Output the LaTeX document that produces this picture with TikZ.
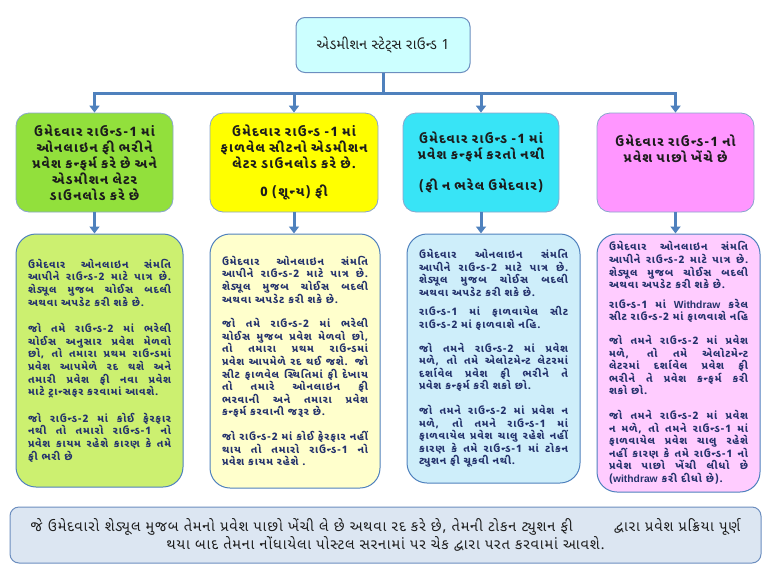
\documentclass[tikz,border=0pt]{standalone}
\usepackage{fontspec}
\setmainfont{Noto Sans Gujarati UI}[Script=Gujarati]
\newfontfamily\latfont{Liberation Sans}
\usetikzlibrary{arrows.meta}
\definecolor{linkblue}{RGB}{79,129,189}
\definecolor{boxline}{RGB}{108,142,191}
\definecolor{titlefill}{RGB}{204,255,255}
\definecolor{greenhead}{RGB}{146,224,60}
\definecolor{yellowhead}{RGB}{255,255,0}
\definecolor{cyanhead}{RGB}{56,228,246}
\definecolor{pinkhead}{RGB}{255,150,255}
\definecolor{greennote}{RGB}{204,240,112}
\definecolor{yellownote}{RGB}{255,255,204}
\definecolor{cyannote}{RGB}{206,238,250}
\definecolor{pinknote}{RGB}{255,204,255}
\definecolor{bannerfill}{RGB}{220,230,242}
\definecolor{notetext}{RGB}{36,50,108}
\definecolor{headtext}{RGB}{28,28,28}
\newcommand\blankline[1]{\par\vspace{#1}}
\begin{document}
\begin{tikzpicture}[x=1pt,y=-1pt,
  link/.style={draw=linkblue,line width=3pt},
  drop/.style={link,-{Triangle[width=10pt,length=7pt]}},
  titlebox/.style={draw=boxline,line width=1pt,fill=titlefill,rounded corners=9pt,
    minimum width=174pt,minimum height=55pt,font=\fontsize{14}{17}\selectfont\addfontfeature{LetterSpace=3},text=headtext},
  headbox/.style={draw=boxline!80,line width=0.8pt,rounded corners=13pt,minimum height=99pt,
    inner xsep=4pt,align=center,font=\bfseries\fontsize{13}{16}\selectfont\addfontfeature{LetterSpace=10},text=headtext},
  notebox/.style={draw=linkblue,line width=1pt,rounded corners=20pt,inner xsep=12pt,
    align=justify,font=\bfseries\fontsize{10.3}{12.6}\selectfont\addfontfeature{LetterSpace=8},text=notetext},
  banner/.style={draw=boxline,line width=1pt,fill=bannerfill,rounded corners=9pt,
    minimum width=751pt,minimum height=56pt,align=center,font=\fontsize{14.5}{18}\selectfont\addfontfeature{LetterSpace=6},text=headtext}]
\useasboundingbox (0,0) rectangle (768,576);

\node[titlebox] (title) at (383,45) {એડમીશન સ્ટેટ્સ રાઉન્ડ 1};

\node[headbox,fill=greenhead,text width=149pt] (h1) at (94.5,162.5)
  {ઉમેદવાર રાઉન્ડ-1 માં\\ ઓનલાઇન ફી ભરીને\\ પ્રવેશ કન્ફર્મ કરે છે અને\\ એડમીશન લેટર\\ ડાઉનલોડ કરે છે};
\node[headbox,fill=yellowhead,text width=160pt] (h2) at (294,162.5)
  {ઉમેદવાર રાઉન્ડ -1 માં\\ ફાળવેલ સીટનો એડમીશન\\ લેટર ડાઉનલોડ કરે છે.\\[12pt] 0 (શૂન્ય) ફી};
\node[headbox,fill=cyanhead,text width=148pt] (h3) at (481,162.5)
  {ઉમેદવાર રાઉન્ડ -1 માં\\ પ્રવેશ કન્ફર્મ કરતો નથી\\[15pt] (ફી ન ભરેલ ઉમેદવાર)};
\node[headbox,fill=pinkhead,text width=149pt] (h4) at (675.5,162.5)
  {ઉમેદવાર રાઉન્ડ-1 નો\\ પ્રવેશ પાછો ખેંચે છે\\[12pt]\mbox{}};

\node[notebox,fill=greennote,text width=143pt,minimum height=253pt] (n1) at (99.5,360.5)
  {ઉમેદવાર ઓનલાઇન સંમતિ\linebreak આપીને રાઉન્ડ-2 માટે પાત્ર છે.\linebreak
   શેડ્યૂલ મુજબ ચોઈસ બદલી\linebreak અથવા અપડેટ કરી શકે છે.\blankline{14pt}
   જો તમે રાઉન્ડ-2 માં ભરેલી\linebreak ચોઈસ અનુસાર પ્રવેશ મેળવો\linebreak
   છો, તો તમારા પ્રથમ રાઉન્ડમાં\linebreak પ્રવેશ આપમેળે રદ થશે અને\linebreak
   તમારી પ્રવેશ ફી નવા પ્રવેશ\linebreak માટે ટ્રાન્સફર કરવામાં આવશે.\blankline{14pt}
   જો રાઉન્ડ-2 માં કોઈ ફેરફાર\linebreak નથી તો તમારો રાઉન્ડ-1 નો\linebreak
   પ્રવેશ કાયમ રહેશે કારણ કે તમે\linebreak ફી ભરી છે};
\node[notebox,fill=yellownote,text width=146pt,minimum height=254pt] (n2) at (295,361)
  {ઉમેદવાર ઓનલાઇન સંમતિ\linebreak આપીને રાઉન્ડ-2 માટે પાત્ર છે.\linebreak
   શેડ્યૂલ મુજબ ચોઈસ બદલી\linebreak અથવા અપડેટ કરી શકે છે.\blankline{12pt}
   જો તમે રાઉન્ડ-2 માં ભરેલી\linebreak ચોઈસ મુજબ પ્રવેશ મેળવો છો,\linebreak
   તો તમારા પ્રથમ રાઉન્ડમાં\linebreak પ્રવેશ આપમેળે રદ થઈ જશે. જો\linebreak
   સીટ ફાળવેલ સ્થિતિમાં ફી દેખાય\linebreak તો તમારે ઓનલાઇન ફી\linebreak
   ભરવાની અને તમારા પ્રવેશ\linebreak કન્ફર્મ કરવાની જરૂર છે.\blankline{12pt}
   જો રાઉન્ડ-2 માં કોઈ ફેરફાર નહીં\linebreak થાય તો તમારો રાઉન્ડ-1 નો\linebreak
   પ્રવેશ કાયમ રહેશે .};
\node[notebox,fill=cyannote,text width=149pt,minimum height=249pt] (n3) at (493.5,358.5)
  {ઉમેદવાર ઓનલાઇન સંમતિ\linebreak આપીને રાઉન્ડ-2 માટે પાત્ર છે.\linebreak
   શેડ્યૂલ મુજબ ચોઈસ બદલી\linebreak અથવા અપડેટ કરી શકે છે.\blankline{7pt}
   રાઉન્ડ-1 માં ફાળવાયેલ સીટ\linebreak રાઉન્ડ-2 માં ફાળવાશે નહિ.\blankline{11pt}
   જો તમને રાઉન્ડ-2 માં પ્રવેશ\linebreak મળે, તો તમે એલોટમેન્ટ લેટરમાં\linebreak
   દર્શાવેલ પ્રવેશ ફી ભરીને તે\linebreak પ્રવેશ કન્ફર્મ કરી શકો છો.\blankline{12pt}
   જો તમને રાઉન્ડ-2 માં પ્રવેશ ન\linebreak મળે, તો તમને રાઉન્ડ-1 માં\linebreak
   ફાળવાયેલ પ્રવેશ ચાલુ રહેશે નહીં\linebreak કારણ કે તમે રાઉન્ડ-1 માં ટોકન\linebreak
   ટ્યુશન ફી ચૂકવી નથી.};
\node[notebox,fill=pinknote,text width=139pt,minimum height=258pt] (n4) at (678.5,363)
  {ઉમેદવાર ઓનલાઇન સંમતિ\linebreak આપીને રાઉન્ડ-2 માટે પાત્ર છે.\linebreak
   શેડ્યૂલ મુજબ ચોઈસ બદલી\linebreak અથવા અપડેટ કરી શકે છે.\blankline{7pt}
   રાઉન્ડ-1 માં {\latfont\bfseries Withdraw} કરેલ\linebreak સીટ રાઉન્ડ-2 માં ફાળવાશે નહિ\blankline{11pt}
   જો તમને રાઉન્ડ-2 માં પ્રવેશ\linebreak મળે, તો તમે એલોટમેન્ટ\linebreak
   લેટરમાં દર્શાવેલ પ્રવેશ ફી\linebreak ભરીને તે પ્રવેશ કન્ફર્મ કરી\linebreak
   શકો છો.\blankline{12pt}
   જો તમને રાઉન્ડ-2 માં પ્રવેશ\linebreak ન મળે, તો તમને રાઉન્ડ-1 માં\linebreak
   ફાળવાયેલ પ્રવેશ ચાલુ રહેશે\linebreak નહીં કારણ કે તમે રાઉન્ડ-1 નો\linebreak
   પ્રવેશ પાછો ખેંચી લીધો છે\linebreak ({\latfont\bfseries withdraw} કરી દીધો છે).};

\node[banner] (note) at (385.5,535)
  {જે ઉમેદવારો શેડ્યૂલ મુજબ તેમનો પ્રવેશ પાછો ખેંચી લે છે અથવા રદ કરે છે, તેમની ટોકન ટ્યુશન ફી\hspace{2.5em} દ્વારા પ્રવેશ પ્રક્રિયા પૂર્ણ\\
   થયા બાદ તેમના નોંધાયેલા પોસ્ટલ સરનામાં પર ચેક દ્વારા પરત કરવામાં આવશે.};

\coordinate (bus) at (383,93);
\draw [link] (title) -- (bus);
\draw [link,line cap=rect] (h1.north |- bus) -- (h4.north |- bus);
\draw [drop] (h1.north |- bus) -- (h1.north);
\draw [drop] (h2.north |- bus) -- (h2.north);
\draw [drop] (h3.north |- bus) -- (h3.north);
\draw [drop] (h4.north |- bus) -- (h4.north);
\draw [drop] (h1.south) -- (h1.south |- n1.north);
\draw [drop] (h2.south) -- (h2.south |- n2.north);
\draw [drop] (h3.south) -- (h3.south |- n3.north);
\draw [drop] (h4.south) -- (h4.south |- n4.north);
\end{tikzpicture}
\end{document}
